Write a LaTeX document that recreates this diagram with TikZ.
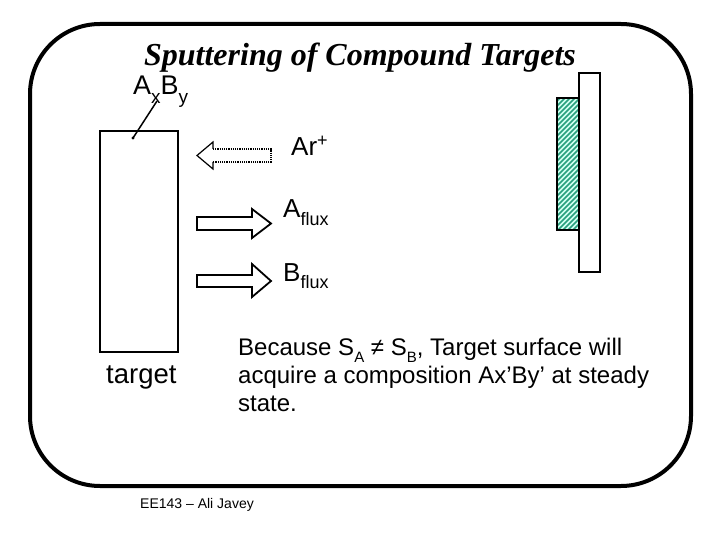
\documentclass[tikz,border=0pt]{standalone}
\usepackage{fontspec}
\setmainfont{Liberation Serif}
\newfontfamily\arial{Liberation Sans}
\newcommand\sbx[2][18]{\raisebox{-0.3em}{\fontsize{#1}{#1}\selectfont #2}}
\newcommand\spx[1]{\raisebox{0.36em}{\fontsize{18}{18}\selectfont #1}}
\tikzset{
  txt/.style={inner sep=0pt, anchor=base west, font=\arial\fontsize{24}{28}\selectfont},
  lbl/.style={inner sep=0pt, anchor=base west, font=\arial\fontsize{26}{30}\selectfont},
  boxline/.style={draw=black, line width=2pt, fill=white},
  fatarrow/.style={draw=black, line width=1.8pt, line join=miter},
}
\begin{document}
\begin{tikzpicture}[x=1pt,y=-1pt]
\useasboundingbox (0,0) rectangle (720,540);
% frame
\draw[line width=4pt, rounded corners=70pt] (30,24) rectangle (691,486);
% title
\node[inner sep=0pt, anchor=base, font=\bfseries\itshape\fontsize{32}{36}\selectfont] (title) at (360,66) {Sputtering of Compound Targets};
% compound label
\node[lbl, font=\arial\fontsize{27}{30}\selectfont] (axby) at (133,95) {A\sbx[19]{x}B\sbx[19]{y}};
\coordinate (ptrstart) at (157,101);
\coordinate (ptrend) at (133,138);
\draw[line width=1.5pt] (ptrstart) -- (ptrend);
\fill (ptrend) circle (1.6pt);
% target
\draw[line width=2pt] (100,131) rectangle (178,352);
\node[lbl, font=\arial\fontsize{27.5}{30}\selectfont] (tgtlabel) at (106,383) {target};
% Ar+ arrow (dotted, pointing left)
\draw[line width=1.2pt] (213,149) -- (213,142) -- (197,155.5) -- (213,169) -- (213,162);
\draw[line width=1.2pt, densely dotted] (213,149) -- (271,149) -- (271,162) -- (213,162);
\node[lbl] (ar) at (291,156) {Ar\spx{+}};
% A flux arrow
\draw[fatarrow] (197,217) -- (252,217) -- (252,209) -- (271,223.5) -- (252,238) -- (252,230) -- (197,230) -- cycle;
\node[lbl] (aflux) at (283,218) {A\sbx{flux}};
% B flux arrow
\draw[fatarrow] (197,275) -- (252,275) -- (252,264) -- (271,281) -- (252,297) -- (252,287) -- (197,287) -- cycle;
\node[lbl] (bflux) at (283,281) {B\sbx{flux}};
% substrate
\draw[boxline] (579,73) rectangle (600,272);
\begin{scope}
  \clip (557,98) rectangle (579,230);
  \fill[fill={rgb,255:red,210;green,255;blue,242}] (557,98) rectangle (579,230);
  \foreach \i in {98,103,...,270} {
    \draw[line width=1.5pt, draw={rgb,255:red,40;green,160;blue,125}] (555,\i) -- (585,\i-30);
  }
\end{scope}
\draw[line width=2pt] (557,98) rectangle (579,230);
% explanation
\node[txt, align=left, anchor=base west] (expl) at (238,411) {Because S\sbx[15]{A} ≠ S\sbx[15]{B}, Target surface will\\acquire a composition Ax’By’ at steady\\state.};
% footer
\node[inner sep=0pt, anchor=base west, font=\arial\fontsize{14}{16}\selectfont] (footer) at (140,508) {EE143 – Ali Javey};
\end{tikzpicture}
\end{document}
